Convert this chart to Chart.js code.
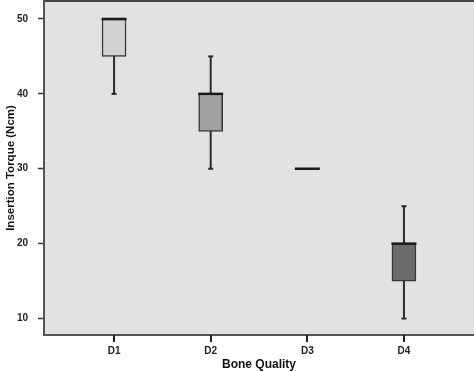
<!DOCTYPE html>
<html>
<head>
<meta charset="utf-8">
<script src="https://cdn.jsdelivr.net/npm/chart.js@4"></script>
<style>
  html, body { margin: 0; padding: 0; background: #fff; }
  #wrap { width: 474px; height: 372px; }
</style>
</head>
<body>
<div id="wrap"><canvas id="chart"></canvas></div>
<script>
// box plot values
const categories = ['D1', 'D2', 'D3', 'D4'];
const mins    = [40, 30, 30, 10];
const q1s     = [45, 35, 30, 15];
const medians = [50, 40, 30, 20];
const q3s     = [50, 40, 30, 20];
const maxs    = [50, 45, 30, 25];
const yTicks  = [10, 20, 30, 40, 50];
const boxColors = ['#d2d2d2', '#a2a2a2', '#9a9a9a', '#6a6a6a'];

const pos = categories.map((c, i) => i + 1);

// whiskers: one segment per category, broken with NaN
const whiskerData = [];
pos.forEach((x, i) => {
    whiskerData.push({ x: x, y: mins[i] }, { x: x, y: maxs[i] }, { x: x, y: NaN });
});
const capData = [];
pos.forEach((x, i) => {
    if (maxs[i] !== mins[i]) capData.push({ x: x, y: mins[i] }, { x: x, y: maxs[i] });
});

// grey plot area, top frame line and x tick marks
const plotBg = {
    id: 'plotBg',
    beforeDraw(chart) {
        const a = chart.chartArea, c = chart.ctx;
        c.save();
        c.fillStyle = '#e2e2e2';
        c.fillRect(a.left, a.top, a.right - a.left, a.bottom - a.top);
        c.strokeStyle = '#444';
        c.lineWidth = 2;
        c.beginPath();
        c.moveTo(a.left, a.top);
        c.lineTo(a.right, a.top);
        c.stroke();
        c.restore();
    },
    afterDatasetsDraw(chart) {
        const a = chart.chartArea, c = chart.ctx, xs = chart.scales.x;
        c.save();
        c.fillStyle = '#222';
        pos.forEach(v => {
            const px = Math.round(xs.getPixelForValue(v));
            c.fillRect(px - 1, a.bottom, 2, 7);
        });
        c.restore();
    }
};

const chart = new Chart(document.getElementById('chart'), {
    type: 'bar',
    data: {
        datasets: [
            {
                type: 'bar',
                data: pos.map((x, i) => ({ x: x, y: [q1s[i], q3s[i]] })),
                backgroundColor: boxColors,
                borderColor: '#383838',
                borderWidth: 1.5,
                borderSkipped: false,
                barThickness: 24,
                order: 2
            },
            {
                type: 'line',
                data: whiskerData,
                borderColor: '#2a2a2a',
                borderWidth: 2,
                pointRadius: 0,
                spanGaps: false,
                order: 3
            },
            {
                type: 'scatter',
                data: capData,
                pointStyle: 'line',
                pointRadius: 2.5,
                borderColor: '#2a2a2a',
                borderWidth: 2,
                order: 1
            },
            {
                type: 'scatter',
                data: pos.map((x, i) => ({ x: x, y: medians[i] })),
                pointStyle: 'line',
                pointRadius: 12.5,
                borderColor: '#1a1a1a',
                borderWidth: 2.5,
                order: 0
            }
        ]
    },
    options: {
        responsive: true,
        maintainAspectRatio: false,
        animation: false,
        layout: { autoPadding: false, padding: { top: 1, right: 0, left: 0, bottom: 0 } },
        plugins: {
            legend: { display: false },
            tooltip: { enabled: false }
        },
        scales: {
            x: {
                type: 'linear',
                min: 0.275,
                max: 4.725,
                offset: false,
                afterBuildTicks: (axis) => { axis.ticks = pos.map(v => ({ value: v })); },
                afterFit: (axis) => {
                    axis.height = 37;
                    axis.paddingLeft = 0;
                    axis.paddingRight = 0;
                },
                ticks: {
                    callback: (v) => categories[v - 1],
                    color: '#222',
                    font: { family: 'Liberation Sans', size: 10, weight: 'bold' },
                    padding: 5,
                    maxRotation: 0
                },
                grid: { display: false, tickLength: 5 },
                border: { display: true, color: '#555', width: 2 },
                title: {
                    display: true,
                    text: 'Bone Quality',
                    color: '#111',
                    font: { family: 'Liberation Sans', size: 12, weight: 'bold' },
                    padding: { top: 4, bottom: 0 }
                }
            },
            y: {
                min: 7.8,
                max: 52.4,
                afterBuildTicks: (axis) => { axis.ticks = yTicks.map(v => ({ value: v })); },
                afterFit: (axis) => {
                    axis.width = 44;
                    axis.paddingTop = 0;
                    axis.paddingBottom = 0;
                },
                ticks: {
                    color: '#222',
                    font: { family: 'Liberation Sans', size: 10, weight: 'bold' },
                    padding: 10
                },
                grid: { drawOnChartArea: false, tickLength: 6, color: '#333', tickWidth: 1.5 },
                border: { color: '#555', width: 2 },
                title: {
                    display: true,
                    text: 'Insertion Torque (Ncm)',
                    color: '#111',
                    font: { family: 'Liberation Sans', size: 11.5, weight: 'bold' },
                    padding: { top: 4, bottom: 2 }
                }
            }
        }
    },
    plugins: [plotBg]
});
</script>
</body>
</html>
